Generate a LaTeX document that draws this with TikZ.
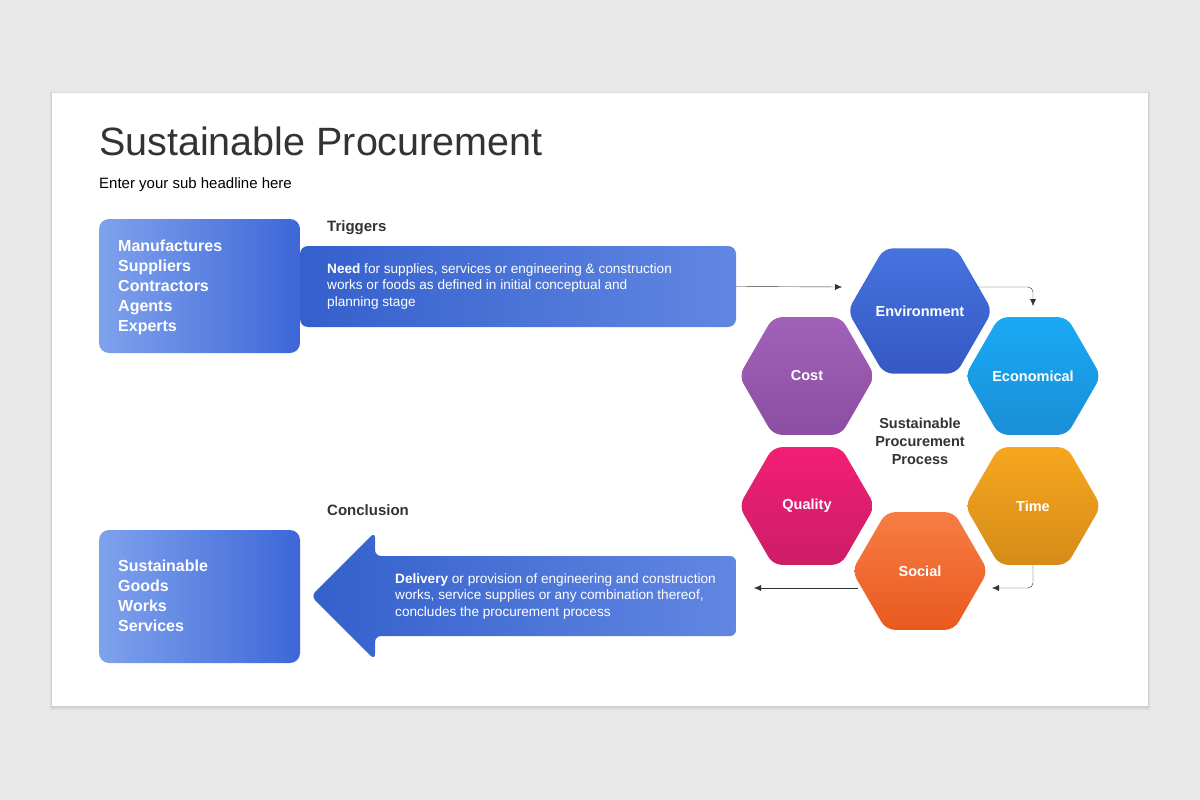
\documentclass[tikz,border=0pt]{standalone}
\usepackage{fontspec}
\setmainfont{Liberation Sans}
\usetikzlibrary{shapes.geometric,arrows.meta}
\definecolor{bgray}{HTML}{E9E8E9}
\definecolor{txtdark}{HTML}{333333}
\definecolor{boxlight}{HTML}{7FA2EC}
\definecolor{boxdark}{HTML}{3D67D8}
\definecolor{banddark}{HTML}{3460CC}
\definecolor{bandlight}{HTML}{6187E2}
\definecolor{envtop}{HTML}{4673DE}\definecolor{envbot}{HTML}{3558C4}
\definecolor{ecotop}{HTML}{19AAF5}\definecolor{ecobot}{HTML}{1A8ED6}
\definecolor{costtop}{HTML}{A261B8}\definecolor{costbot}{HTML}{8A4EA2}
\definecolor{qualtop}{HTML}{F21F74}\definecolor{qualbot}{HTML}{CC1D66}
\definecolor{timetop}{HTML}{F7A61E}\definecolor{timebot}{HTML}{D48B18}
\definecolor{soctop}{HTML}{F77D45}\definecolor{socbot}{HTML}{E9591E}
\tikzset{
  hexa/.style 2 args={regular polygon, regular polygon sides=6, minimum size=136pt,
    inner sep=0pt, outer sep=0pt, rounded corners=9pt, top color=#1, bottom color=#2, draw=none,
    text=white, font=\bfseries\fontsize{14.5}{18}\selectfont},
  srcbox/.style={rounded corners=10pt, left color=boxlight, right color=boxdark, draw=none},
  boxtext/.style={text=white, font=\bfseries\fontsize{16}{20}\selectfont, align=left, anchor=north west},
  bandtext/.style={text=white, font=\fontsize{13.6}{16.5}\selectfont, align=left, anchor=north west},
  head/.style={text=txtdark, font=\bfseries\fontsize{15}{18}\selectfont, anchor=west},
  link/.style={draw=txtdark, thin, -{Latex[length=7pt,width=6pt]}, rounded corners=5pt}
}
\begin{document}
\begin{tikzpicture}[x=1pt,y=-1pt]
  %BACKGROUND
  \fill[bgray] (0,0) rectangle (1200,800);
  \useasboundingbox (0,0) rectangle (1200,800);
  \fill[black, opacity=0.05] (50,92) rectangle (1150,710);
  \fill[black, opacity=0.05] (51,93) rectangle (1149,708);
  \fill[white] (52,93) rectangle (1148,706);
  %TITLE
  \node[anchor=base west, text=txtdark, font=\fontsize{39.5}{46}\selectfont, inner sep=0] (title) at (99,155) {Sustainable Procurement};
  \node[anchor=base west, text=black, font=\fontsize{15}{18}\selectfont, inner sep=0] (sub) at (99,188) {Enter your sub headline here};
  %TOP ROW
  \path[left color=banddark, right color=bandlight, rounded corners=8pt] (300,246) -- (736,246) -- (736,327) -- (300,327) -- cycle;
  \node[inner sep=0, minimum width=436pt, minimum height=81pt] (need) at (518,286.5) {};
  \path[srcbox] (99,219) rectangle (300,353);
  \node[boxtext, inner sep=0] (actors) at (118,240) {Manufactures\\Suppliers\\Contractors\\Agents\\Experts};
  \node[head, inner sep=0] (trig) at (327,228) {Triggers};
  \node[bandtext, inner sep=0] (needtxt) at (327,263) {\textbf{Need} for supplies, services or engineering \& construction\\works or foods as defined in initial conceptual and\\planning stage};
  %BOTTOM ROW
  \path[left color=banddark, right color=bandlight, rounded corners=6pt] (736,556) -- (736,636) -- (375,636) -- (375,660) -- (311,596) -- (375,532) -- (375,556) -- cycle;
  \node[inner sep=0, minimum width=361pt, minimum height=80pt] (deliv) at (555.5,596) {};
  \path[srcbox] (99,530) rectangle (300,663);
  \node[boxtext, inner sep=0] (goods) at (118,560) {Sustainable\\Goods\\Works\\Services};
  \node[head, inner sep=0] (concl) at (327,510) {Conclusion};
  \node[bandtext, inner sep=0] (delivtxt) at (395,573) {\textbf{Delivery} or provision of engineering and construction\\works, service supplies or any combination thereof,\\concludes the procurement process};
  %HEXAGONS
  \node[hexa={envtop}{envbot}] (env) at (920,311) {Environment};
  \node[hexa={costtop}{costbot}] (cost) at (807,376) {Cost};
  \node[hexa={ecotop}{ecobot}] (eco) at (1033,376) {Economical};
  \node[hexa={qualtop}{qualbot}] (qual) at (807,506) {Quality};
  \node[hexa={timetop}{timebot}] (time) at (1033,506) {Time};
  \node[hexa={soctop}{socbot}] (soc) at (920,571) {Social};
  \node[text=txtdark, font=\bfseries\fontsize{14.5}{18}\selectfont, align=center] (proc) at (920,441) {Sustainable\\Procurement\\Process};
  %LINKS
  \coordinate (inpt) at (842,287);
  \coordinate (outpt) at (754,588);
  \draw[link] (need.east) -- (inpt);
  \draw[link] (976,287) -- (1033,287) -- (eco.north |- 0,306);
  \draw[link] (time.south) -- (1033,588) -- (992,588);
  \draw[link] (858,588) -- (outpt);
\end{tikzpicture}
\end{document}
